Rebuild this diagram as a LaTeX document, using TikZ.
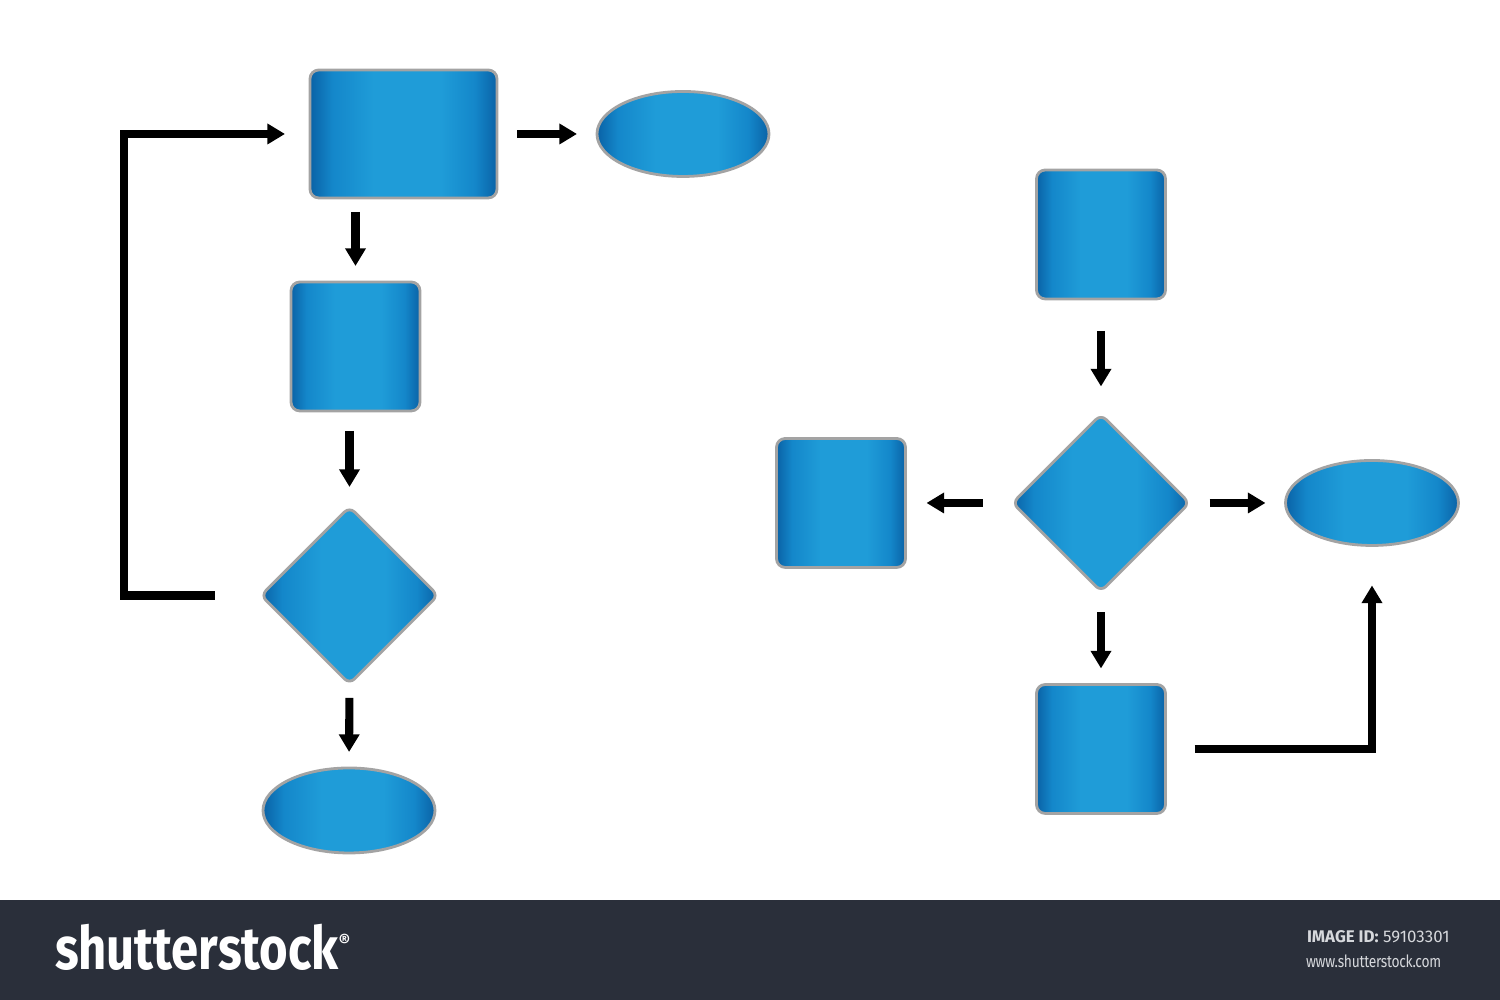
\documentclass[tikz,border=0pt]{standalone}
\usepackage{fontspec}
\setmainfont{Fira Sans}
\usetikzlibrary{positioning}
\usetikzlibrary{shapes.geometric,arrows.meta,calc}
\definecolor{flowedge}{HTML}{0A62A6}
\definecolor{flowside}{HTML}{1487CA}
\definecolor{flowmid}{HTML}{1F9CD8}
\definecolor{flowrim}{HTML}{A3A3A3}
\definecolor{barbg}{HTML}{2A2F3A}
\definecolor{bartext}{HTML}{D6D8DC}
\pgfdeclarehorizontalshading{flowshade}{100bp}{color(0bp)=(flowedge); color(25bp)=(flowedge); color(31bp)=(flowside); color(42bp)=(flowmid); color(60bp)=(flowmid); color(69bp)=(flowside); color(75bp)=(flowedge); color(100bp)=(flowedge)}
\tikzset{
    %Define standard arrow tip
    >={Triangle[length=5pt,width=5.6pt]},
    % Define arrow style
    pil/.style={
           ->,
           line width=2.3pt,
           shorten <=0.2cm,
           shorten >=0.2cm,}
}
\newcommand{\boxwidth}{1.29cm}
\newcommand{\boxheight}{1.29cm}

\begin{document}
\begin{tikzpicture}[outer sep=0pt]
\tikzstyle{shade}=[draw=flowrim, line width=0.8pt, shading=flowshade]
\tikzstyle{box}=[shade, rectangle, rounded corners=2.5pt, minimum height=\boxheight, minimum width=\boxwidth, inner sep=0pt]
\tikzstyle{dec}=[shade, diamond, rounded corners=2pt, minimum width=1.77cm, minimum height=1.77cm, inner sep=0pt]
\tikzstyle{term}=[shade, ellipse, minimum height=0.85cm, minimum width=1.72cm, inner sep=0pt]
\tikzstyle{bar}=[inner sep=0pt, anchor=base west]

\path[use as bounding box] (0,0) rectangle (15,10);
\fill[barbg] (0,0) rectangle (15,1);

% left chart
\node[box, minimum width=1.87cm, minimum height=1.28cm] (box0) at (4.035,8.66) {};
\node[term] (term0) [right = 1cm of box0] {};
\node[box] (box1) at (3.555,6.535) {};
\node[dec] (dec0) at (3.495,4.045) {};
\node[term] (term1) at (3.49,1.895) {};

\path[pil] (box0.east) edge (term0.west);
\path[pil,shorten <=0.14cm,shorten >=0.16cm] (box0.south -| box1.north) edge (box1.north);
\path[pil] (box1.south -| dec0.north) edge (dec0.north);
\path[pil,shorten <=0.14cm,shorten >=0.16cm] (dec0.south) edge (term1.north);

\coordinate (loopx) at (1.24,0);
\draw[pil,shorten <=0.46cm,shorten >=0.25cm] (dec0.west) -- (dec0.west -| loopx) |- (box0.west);

% right chart
\node[box] (box2) at (11.01,7.655) {};
\node[dec] (dec1) at (11.01,4.97) {};
\node[box] (box3) [left = 1.07cm of dec1] {};
\node[term, minimum width=1.73cm] (term2) [right = 0.96cm of dec1] {};
\node[box] (box4) [below = 0.93cm of dec1] {};

\path[pil,shorten <=0.32cm,shorten >=0.28cm] (box2.south) edge (dec1.north);
\path[pil,shorten <=0.30cm,shorten >=0.21cm] (dec1.west) edge (box3.east);
\path[pil] (dec1.east) edge (term2.west);
\path[pil,shorten <=0.21cm,shorten >=0.16cm] (dec1.south) edge (box4.north);
\draw[pil,shorten <=0.29cm,shorten >=0.4cm] (box4.east) -| (term2.south);

% bottom bar
\node[bar, text=white, font=\fontsize{17}{17}\selectfont\bfseries] (logo) at (0.55,0.30) {\scalebox{0.82}[1]{shutterstock}\textsuperscript{\tiny ®}};
\node[bar, text=bartext, font=\fontsize{4.8}{5}\selectfont] (imgid) at (13.07,0.57) {\textbf{IMAGE ID:} 59103301};
\node[bar, text=bartext, font=\fontsize{4.8}{5}\selectfont\addfontfeatures{LetterSpace=-2}] (site) at (13.06,0.32) {\scalebox{0.82}[1]{www.shutterstock.com}};

\end{tikzpicture}
\end{document}
